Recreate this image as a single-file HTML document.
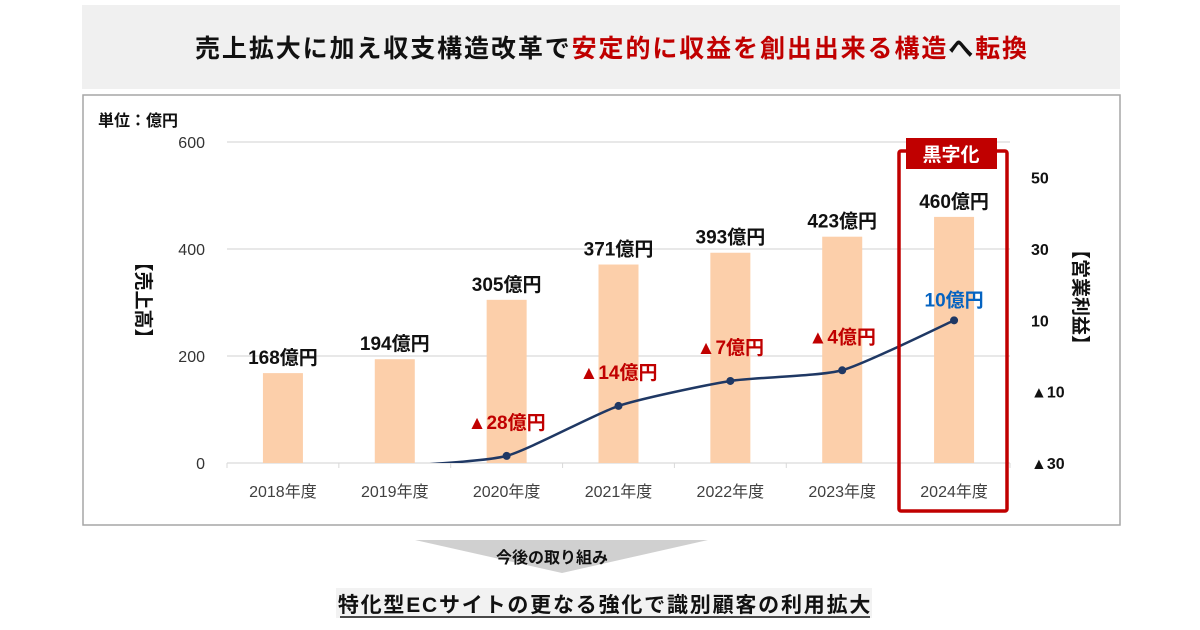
<!DOCTYPE html>
<html><head><meta charset="utf-8"><style>
html,body{margin:0;padding:0;background:#fff;width:1200px;height:630px;overflow:hidden}
svg text{font-family:"Liberation Sans","Noto Sans CJK JP",sans-serif}
</style></head><body>
<svg id="chart" width="1200" height="630" xmlns="http://www.w3.org/2000/svg">
<rect x="82" y="5" width="1038" height="84" fill="#f0f0f0"/>
<text x="612" y="57" text-anchor="middle" font-size="25" font-weight="bold" letter-spacing="1.9" fill="#111">売上拡大に加え収支構造改革で<tspan fill="#c00000">安定的に収益を創出出来る構造</tspan>へ<tspan fill="#c00000">転換</tspan></text>
<rect x="83" y="95" width="1037" height="430" fill="#fff" stroke="#a6a6a6" stroke-width="1.5"/>
<text x="98" y="126" font-size="16" font-weight="bold" fill="#111">単位：億円</text>
<g id="grid"></g>
<g id="bars"></g>
<g id="line"></g>
<g id="labels"></g>
<text font-size="19" font-weight="bold" fill="#111" transform="translate(137,300) rotate(90)" text-anchor="middle">【売上高】</text>
<text font-size="19" font-weight="bold" fill="#111" transform="translate(1074,297) rotate(90)" text-anchor="middle">【営業利益】</text>
<rect x="899" y="151" width="108" height="360" fill="none" stroke="#c00000" stroke-width="3.5" rx="2"/>
<rect x="906" y="138" width="91" height="31" fill="#c00000"/>
<text x="951" y="161" text-anchor="middle" font-size="19" font-weight="bold" fill="#fff">黒字化</text>
<polygon points="415,540 708,540 562,573" fill="#d0d0d0"/>
<text x="552" y="563" text-anchor="middle" font-size="16" font-weight="bold" fill="#111">今後の取り組み</text>
<rect x="336" y="588" width="536" height="30" fill="#f2f2f2"/>
<text x="605" y="612" text-anchor="middle" font-size="21" font-weight="bold" letter-spacing="1.8" fill="#111">特化型ECサイトの更なる強化で識別顧客の利用拡大</text>
<line x1="340" y1="617" x2="870" y2="617" stroke="#111" stroke-width="1.5"/>
</svg>
<script>
const categories=["2018年度","2019年度","2020年度","2021年度","2022年度","2023年度","2024年度"];
const sales=[168,194,305,371,393,423,460];
const profit=[null,-31,-28,-14,-7,-4,10];
const profitLabels=[null,null,"▲28億円","▲14億円","▲7億円","▲4億円","10億円"];
const leftTicks=[0,200,400,600];
const rightTicks=[50,30,10,-10,-30];
const rightTickLabels=["50","30","10","▲10","▲30"];

const NS="http://www.w3.org/2000/svg";
const X0=227,X1=1010,Y0=463,Y1=142;
const band=(X1-X0)/categories.length;
const xC=i=>X0+band*(i+0.5);
const yL=v=>Y0-(v/600)*(Y0-Y1);
const yR=v=>Y0-((v+30)/90)*(Y0-Y1);
function mk(tag,attrs,parent,txt){const e=document.createElementNS(NS,tag);for(const k in attrs)e.setAttribute(k,attrs[k]);if(txt!=null)e.textContent=txt;parent.appendChild(e);return e;}
const grid=document.getElementById('grid'),bars=document.getElementById('bars'),lineG=document.getElementById('line'),labels=document.getElementById('labels');

leftTicks.forEach(t=>{
  const l=mk('line',{x1:X0,x2:X1,y1:yL(t),y2:yL(t),stroke:'#d9d9d9','stroke-width':1.2},grid);
  
  
  const tx=mk('text',{x:205,y:yL(t)+6,'text-anchor':'end','font-size':16,fill:'#333'},grid,String(t));
  
  
});
rightTicks.forEach((t,i)=>{
  const tx=mk('text',{x:1031,y:yR(t)+6,'font-size':16,'font-weight':'bold',fill:'#111'},grid,rightTickLabels[i]);
  
  
});
for(let i=0;i<=categories.length;i++){
  const x=X0+band*i;
  const t=mk('line',{x1:x,x2:x,y1:Y0,y2:Y0+5,stroke:'#d9d9d9'},grid);
  
  
}
categories.forEach((c,i)=>{
  const tx=mk('text',{x:xC(i),y:497,'text-anchor':'middle','font-size':16,fill:'#404040'},grid,c);
  
  
});
sales.forEach((v,i)=>{
  const r=mk('rect',{x:xC(i)-20,y:yL(v),width:40,height:Y0-yL(v),fill:'#fccfaa'},bars);
  
  
  const tx=mk('text',{x:xC(i),y:yL(v)-9,'text-anchor':'middle','font-size':19,'font-weight':'bold',fill:'#111'},labels,v+'億円');
  
  
});
const cp=mk('clipPath',{id:'plotclip'},lineG);
mk('rect',{x:X0,y:Y1-20,width:X1-X0,height:Y0-Y1+20},cp);
const pts=[];profit.forEach((v,i)=>{if(v!=null)pts.push([xC(i),yR(v)]);});
let d=`M${pts[0][0]},${pts[0][1]}`;
const k=0.1;
for(let i=0;i<pts.length-1;i++){
  const p0=pts[Math.max(0,i-1)],p1=pts[i],p2=pts[i+1],p3=pts[Math.min(pts.length-1,i+2)];
  const c1=[p1[0]+(p2[0]-p0[0])*k,p1[1]+(p2[1]-p0[1])*k];
  const c2=[p2[0]-(p3[0]-p1[0])*k,p2[1]-(p3[1]-p1[1])*k];
  d+=` C${c1[0]},${c1[1]} ${c2[0]},${c2[1]} ${p2[0]},${p2[1]}`;
}
const path=mk('path',{d:d,fill:'none',stroke:'#1f3864','stroke-width':2.5,'clip-path':'url(#plotclip)'},lineG);


profit.forEach((v,i)=>{
  if(v==null||yR(v)>Y0)return;
  const c=mk('circle',{cx:xC(i),cy:yR(v),r:4,fill:'#1f3864'},lineG);
  
  
  if(profitLabels[i]){
    const tx=mk('text',{x:xC(i),y:yR(v)-(i===6?14:27),'text-anchor':'middle','font-size':19,'font-weight':'bold',fill:v<0?'#c00000':'#0563c1'},labels,profitLabels[i]);
    
    
  }
});
</script>
</body></html>
